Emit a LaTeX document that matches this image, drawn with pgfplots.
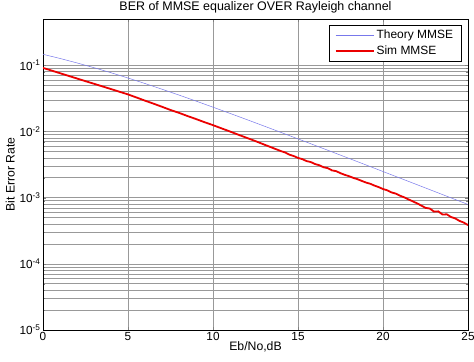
\documentclass[border=0pt]{standalone}
\usepackage{fontspec}
\setmainfont{Liberation Sans}
\usepackage{pgfplots}
\pgfplotsset{compat=1.18}
\definecolor{theoryblue}{RGB}{120,120,235}
\definecolor{simred}{RGB}{235,0,0}
\begin{document}
\begin{tikzpicture}
\begin{axis}[
  at={(0,0)}, anchor=south west,
  scale only axis, width=425bp, height=311bp,
  ymode=log, xmin=0, xmax=25, ymin=1e-5, ymax=0.5,
  xtick={0,5,10,15,20,25}, xticklabels={0,5,10,15,20,25},
  ytick={1e-5,1e-4,1e-3,1e-2,1e-1},
  yticklabels={10\textsuperscript{-5},10\textsuperscript{-4},10\textsuperscript{-3},10\textsuperscript{-2},10\textsuperscript{-1}},
  tick label style={font=\fontsize{11.8}{12}\selectfont},
  xticklabel style={yshift=1bp},
  yticklabel style={xshift=1bp},
  label style={font=\fontsize{12.3}{13}\selectfont},
  title style={font=\fontsize{12.5}{13}\selectfont, yshift=-4bp},
  title={BER of MMSE equalizer OVER Rayleigh channel},
  xlabel={Eb/No,dB}, ylabel={Bit Error Rate},
  xlabel style={yshift=6bp},
  ylabel style={yshift=-2bp},
  xmajorgrids, ymajorgrids, yminorgrids,
  major grid style={gray!80, line width=0.5pt},
  minor grid style={gray!80, line width=0.5pt},
  tick align=inside, major tick length=3bp, minor tick length=1.8bp,
  axis line style={black, line width=0.5pt},
  legend style={at={(0.984,0.981)}, anchor=north east, draw=black, fill=white,
    font=\fontsize{12}{15}\selectfont, inner xsep=6bp, inner ysep=3bp, row sep=1.5bp},
  legend cell align=left,
  legend image code/.code={\draw[#1] (0bp,0bp) -- (38bp,0bp);},
]
\addplot[theoryblue, line width=0.5pt] coordinates {
(0,0.14645)(1,0.12674)(2,0.10848)(3,0.091915)(4,0.077136)(5,0.064180)
(6,0.053000)(7,0.043470)(8,0.035456)(9,0.028781)(10,0.023269)
(11,0.018750)(12,0.015066)(13,0.012079)(14,0.0096655)(15,0.0077217)
(16,0.006162)(17,0.004914)(18,0.003915)(19,0.003118)(20,0.002481)
(21,0.001974)(22,0.001570)(23,0.001248)(24,0.000992)(25,0.000789)
};
\addlegendentry{Theory MMSE}
\addplot[simred, line width=1.8pt] coordinates {
(0,0.0912)(0.5,0.0832)(1,0.0759)(1.5,0.0692)(2,0.0631)(2.5,0.0575)
(3,0.0525)(3.5,0.0479)(4,0.0437)(4.5,0.0398)(5,0.0363)
(5.5,0.0326)(6,0.0292)(6.5,0.0263)(7,0.0236)(7.5,0.0211)
(8,0.0191)(8.5,0.0171)(9,0.0154)(9.5,0.0138)(10,0.01245)
(10.5,0.01114)(11,0.00998)(11.5,0.00891)(12,0.00798)(12.5,0.00714)
(13,0.00635)(13.5,0.00566)(14,0.00504)
(14.25,0.00481)(14.5,0.00445)(14.75,0.00425)(15,0.00398)
(15.25,0.00382)(15.5,0.00357)(15.75,0.00345)(16,0.00322)
(16.25,0.00309)(16.5,0.00288)(16.75,0.00279)(17,0.00258)
(17.25,0.00251)(17.5,0.00234)(17.75,0.00221)(18,0.00211)
(18.25,0.00199)(18.5,0.00190)(18.75,0.00179)(19,0.00169)
(19.25,0.00162)(19.5,0.00152)(19.75,0.00144)(20,0.00135)
(20.25,0.00129)(20.5,0.00120)(20.75,0.00115)(21,0.00107)
(21.25,0.001010)(21.5,0.000940)(21.75,0.000880)(22,0.000820)
(22.25,0.000760)(22.5,0.000700)(22.75,0.000685)(23,0.000615)
(23.25,0.000620)(23.5,0.000555)(23.75,0.000560)(24,0.000510)
(24.25,0.000485)(24.5,0.000445)(24.75,0.000420)(25,0.000385)
};
\addlegendentry{Sim MMSE}
\end{axis}
\pgfresetboundingbox
\useasboundingbox (-43bp,-32bp) rectangle (431bp,330bp);
\end{tikzpicture}
\end{document}
